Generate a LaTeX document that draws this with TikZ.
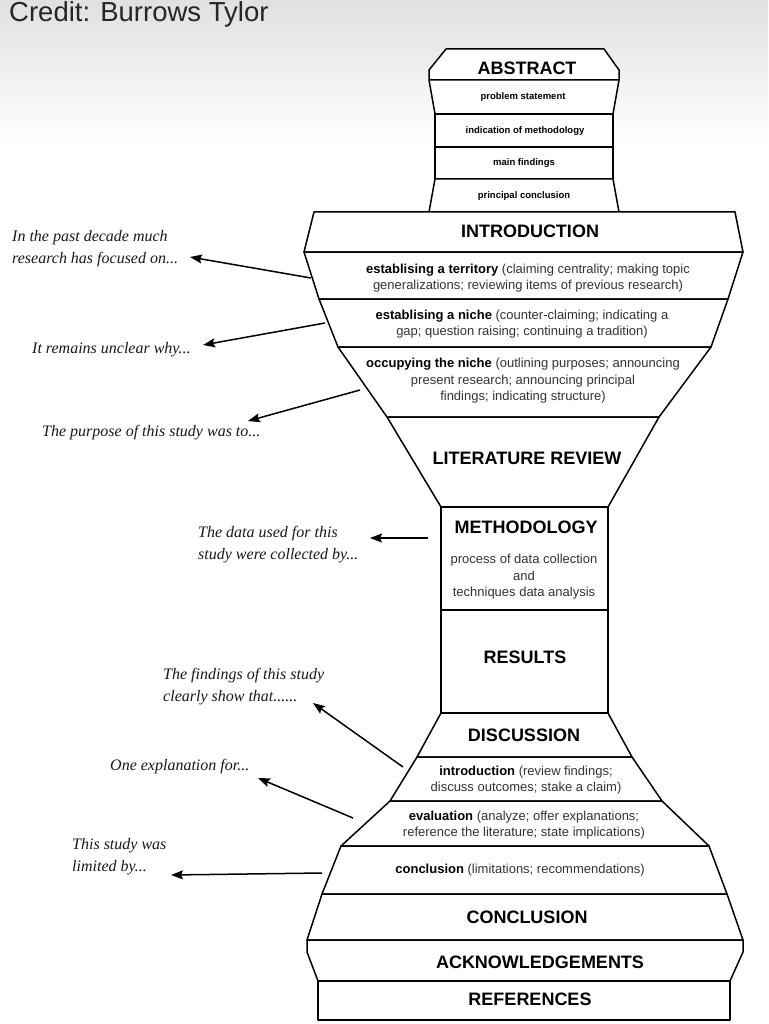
\documentclass[tikz,border=0pt]{standalone}
\usepackage{fontspec}
\setsansfont{Liberation Sans}
\newfontfamily\notefont{Liberation Serif}
\usetikzlibrary{arrows.meta}

\newcommand{\movename}[1]{{\color{black}\bfseries #1}}

\begin{document}
\begin{tikzpicture}[x=1pt, y=-1pt,
		layer/.style = {draw=black, line width=1.5pt, fill=white, line join=round},
		heading/.style = {font=\sffamily\bfseries\fontsize{18}{20}\selectfont},
		item/.style = {font=\sffamily\bfseries\fontsize{9.5}{11}\selectfont},
		move/.style = {font=\sffamily\fontsize{13}{16.5}\selectfont, align=center, text=black!80},
		note/.style = {font=\notefont\itshape\fontsize{16}{22}\selectfont, align=left, anchor=west, inner sep=0pt, text=black!90}]
	\useasboundingbox (0,0) rectangle (768,1024);
	\fill[white] (0,0) rectangle (768,1024);
	\shade[top color=black!12, bottom color=white] (0,0) rectangle (768,145);
	\node[font=\sffamily\fontsize{27.5}{30}\selectfont, anchor=base west, inner sep=0pt, text=black!85] (credit) at (9,22) {Credit: Burrows Tylor};

	% the funnel, layer by layer
	\begin{scope}[every path/.style = {layer}]
		\draw (429,80) -- (429,70) -- (446,49) -- (604,49) -- (619,70) -- (619,80) -- cycle;
		\draw (429,80) -- (619,80) -- (613,114) -- (435,114) -- cycle;
		\draw (435,114) -- (613,114) -- (613,147) -- (435,147) -- cycle;
		\draw (435,147) -- (613,147) -- (613,179) -- (435,179) -- cycle;
		\draw (435,179) -- (613,179) -- (619,212) -- (429,212) -- cycle;
		\draw (314,212) -- (735,212) -- (743,252) -- (304,252) -- cycle;
		\draw (304,252) -- (743,252) -- (728,299) -- (319,299) -- cycle;
		\draw (319,299) -- (728,299) -- (711,347) -- (338,347) -- cycle;
		\draw (338,347) -- (711,347) -- (659,417) -- (387,417) -- cycle;
		\draw (387,417) -- (659,417) -- (608,507) -- (441,507) -- cycle;
		\draw (441,507) -- (608,507) -- (608,610) -- (441,610) -- cycle;
		\draw (441,610) -- (608,610) -- (608,713) -- (441,713) -- cycle;
		\draw (441,713) -- (608,713) -- (632,757) -- (417,757) -- cycle;
		\draw (417,757) -- (632,757) -- (662,801) -- (390,801) -- cycle;
		\draw (390,801) -- (662,801) -- (709,846) -- (341,846) -- cycle;
		\draw (341,846) -- (709,846) -- (727,894) -- (322,894) -- cycle;
		\draw (322,894) -- (727,894) -- (743,940) -- (307,940) -- cycle;
		\draw (307,940) -- (743,940) -- (743,952) -- (730,981) -- (318,981) -- (307,952) -- cycle;
		\draw (318,981) -- (730,981) -- (730,1020) -- (318,1020) -- cycle;
	\end{scope}

	% section names and their parts
	\node[heading] (abs) at (527,68) {ABSTRACT};
	\node[item] (ps) at (523,97) {problem statement};
	\node[item] (im) at (525,131) {indication of methodology};
	\node[item] (mf) at (524,163) {main findings};
	\node[item] (pc) at (524,196) {principal conclusion};
	\node[heading] (intro) at (530,231) {INTRODUCTION};
	\node[move] (terr) at (528,278) {\movename{establising a territory} (claiming centrality; making topic\\generalizations; reviewing items of previous research)};
	\node[move] (niche) at (522,324) {\movename{establising a niche} (counter-claiming; indicating a\\gap; question raising; continuing a tradition)};
	\node[move] (occ) at (523,381) {\movename{occupying the niche} (outlining purposes; announcing\\present research; announcing principal\\findings; indicating structure)};
	\node[heading] (lit) at (527,458) {LITERATURE REVIEW};
	\node[heading] (meth) at (526,527) {METHODOLOGY};
	\node[move] (methtxt) at (524,577) {process of data collection\\and\\techniques data analysis};
	\node[heading] (res) at (525,657) {RESULTS};
	\node[heading] (disc) at (524,735) {DISCUSSION};
	\node[move] (dintro) at (526,780) {\movename{introduction} (review findings;\\discuss outcomes; stake a claim)};
	\node[move] (eval) at (524,825) {\movename{evaluation} (analyze; offer explanations;\\reference the literature; state implications)};
	\node[move] (concm) at (520,870) {\movename{conclusion} (limitations; recommendations)};
	\node[heading] (conc) at (527,917) {CONCLUSION};
	\node[heading] (ack) at (540,962) {ACKNOWLEDGEMENTS};
	\node[heading] (ref) at (530,999) {REFERENCES};

	% phrases on the left
	\node[note] (n1) at (12,249) {In the past decade much\\research has focused on...};
	\node[note] (n2) at (32,350) {It remains unclear why...};
	\node[note] (n3) at (42,433) {The purpose of this study was to...};
	\node[note] (n4) at (198,545) {The data used for this\\study were collected by...};
	\node[note] (n5) at (163,687) {The findings of this study\\clearly show that......};
	\node[note] (n6) at (110,767) {One explanation for...};
	\node[note] (n7) at (72,857) {This study was\\limited by...};

	\coordinate (s1) at (311,278);  \coordinate (p1) at (190,257);
	\coordinate (s2) at (325,323);  \coordinate (p2) at (203,345);
	\coordinate (s3) at (360,390);  \coordinate (p3) at (248,421);
	\coordinate (s4) at (428,538);  \coordinate (p4) at (370,538);
	\coordinate (s5) at (403,767);  \coordinate (p5) at (313,703);
	\coordinate (s6) at (353,818);  \coordinate (p6) at (258,778);
	\coordinate (s7) at (322,873);  \coordinate (p7) at (171,875);

	\begin{scope}[>={Stealth[length=12pt, width=9pt, inset=2pt]},
			every path/.style = {draw=black, line width=1.5pt}]
		\foreach \i in {1,...,7}
			\draw [->] (s\i) -- (p\i);
	\end{scope}
\end{tikzpicture}
\end{document}
